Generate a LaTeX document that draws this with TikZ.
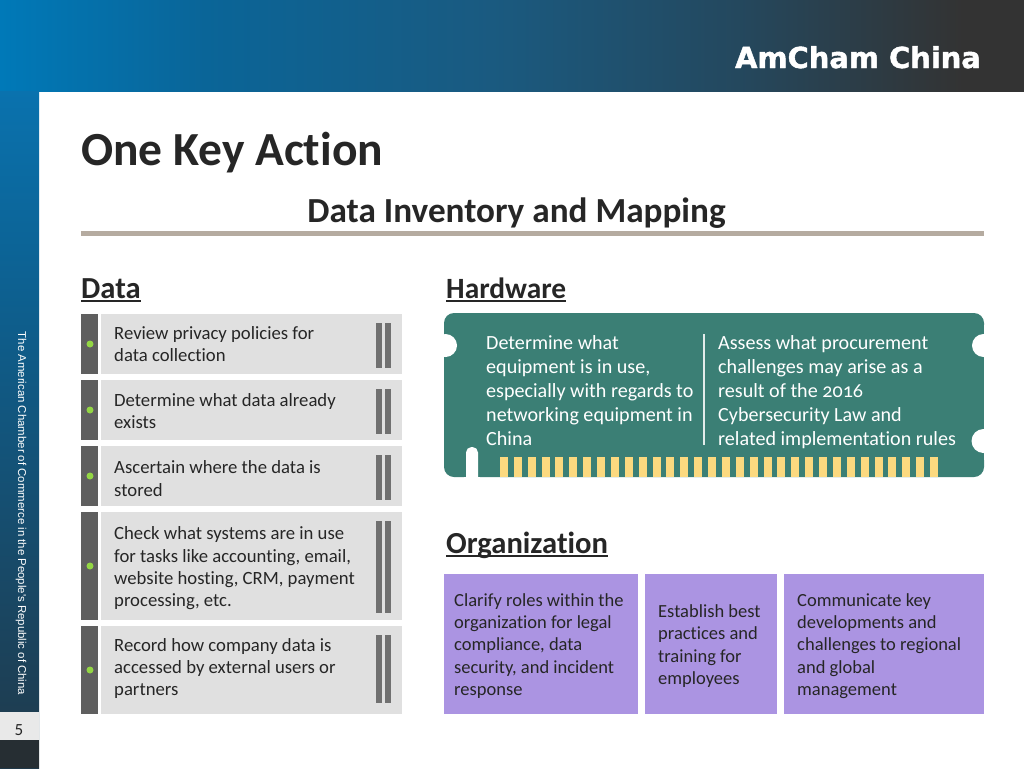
\documentclass[tikz,border=0pt]{standalone}
\usepackage{fontspec}
\setmainfont{Carlito}[Numbers=OldStyle,Ligatures=NoCommon]
\newfontfamily\sidefont{Liberation Sans}
\newfontfamily\logofont{DejaVu Sans}[BoldFont={DejaVu Sans Bold},BoldFeatures={FakeBold=1.5}]
\definecolor{c0}{HTML}{0079B8}
\definecolor{c1}{HTML}{0A6598}
\definecolor{c2}{HTML}{1A5A80}
\definecolor{c3}{HTML}{24485E}
\definecolor{c4}{HTML}{333333}
\definecolor{s0}{HTML}{0A72AE}
\definecolor{s1}{HTML}{0D6090}
\definecolor{s2}{HTML}{20394A}
\definecolor{inkc}{HTML}{262626}
\definecolor{rowbg}{HTML}{E0E0E0}
\definecolor{rowdark}{HTML}{5F5F5F}
\definecolor{dotc}{HTML}{93D644}
\definecolor{barc}{HTML}{707070}
\definecolor{board}{HTML}{3B7F75}
\definecolor{gold}{HTML}{FBD97F}
\definecolor{purp}{HTML}{AB94E2}
\definecolor{rulec}{HTML}{B5ABA0}
\definecolor{footc}{HTML}{262E33}
\pgfdeclarehorizontalshading{bandshade}{100bp}{
  color(0bp)=(c0); color(25bp)=(c0); color(35bp)=(c1); color(49bp)=(c2); color(61bp)=(c3); color(72bp)=(c4); color(100bp)=(c4)}
\pgfdeclareverticalshading{sideshade}{100bp}{
  color(0bp)=(s2); color(25bp)=(s2); color(60bp)=(s1); color(75bp)=(s0); color(100bp)=(s0)}
\tikzset{
  x=1pt,y=-1pt,
  rowtext/.style={anchor=west,inner sep=0pt,align=left,text=inkc,font=\fontsize{18.7}{22.3}\selectfont},
  boardtext/.style={anchor=north west,inner sep=0pt,align=left,text=white,font=\fontsize{20.1}{24}\selectfont},
  purptext/.style={anchor=west,inner sep=0pt,align=left,text=inkc,font=\fontsize{18.5}{22.2}\selectfont},
  head/.style={anchor=base west,inner sep=0pt,text=inkc,font=\fontsize{29.4}{30}\selectfont\bfseries},
  headwide/.style={head,font=\fontsize{30.6}{31}\selectfont\bfseries},
  headline/.style={draw=inkc,line width=1.6pt},
  rowdarkbox/.style={fill=rowdark,draw=none},
  rowbox/.style={fill=rowbg,draw=none},
  grip/.style={fill=barc,draw=none},
  purpbox/.style={fill=purp,draw=none},
}
\newcommand{\datarow}[5]{%
  \fill[rowdarkbox] (81,#1) rectangle (98,#2);
  \fill[rowbox] (101,#1) rectangle (402,#2);
  \fill[dotc] (90,{(#1+#2)/2}) circle (3.5);
  \fill[grip] (376,{#1+9}) rectangle (382.2,#4);
  \fill[grip] (384.6,{#1+9}) rectangle (390.6,#4);
  \node[rowtext] at (114,#3) {#5};
}
\begin{document}
\begin{tikzpicture}
\useasboundingbox (0,0) rectangle (1024,768);
\fill[white] (0,0) rectangle (1024,768);
\shade[shading=bandshade] (0,0) rectangle (1024,91);
\shade[shading=sideshade] (0,91) rectangle (39,768);
\fill[rowbg!70!white] (0,712) rectangle (39,740);
\fill[footc] (0,740) rectangle (39,768);
\node[inner sep=0pt,text=inkc,font=\fontsize{17}{18}\selectfont] (pageno) at (19,730) {\addfontfeature{Numbers=Lining}5};
\node[anchor=base east,inner sep=0pt,text=white] (logo) at (981,68) {\logofont\bfseries\fontsize{28.9}{30}\selectfont AmCham China};
\node[rotate=-90,inner sep=0pt,text=white,font=\fontsize{11.4}{13}\selectfont] (side) at (21,513.5) {\sidefont The American Chamber of Commerce in the People's Republic of China};
\node[anchor=base west,inner sep=0pt,text=inkc,font=\fontsize{47.5}{48}\selectfont\bfseries] (title) at (81,165) {One Key Action};
\node[anchor=base,inner sep=0pt,text=inkc,font=\fontsize{35.2}{36}\selectfont\bfseries] (sub) at (516.5,222) {Data Inventory and Mapping};
\fill[rulec] (81,231) rectangle (984,236);
\node[headwide] (hdata) at (81,298) {Data};
\node[head] (hhard) at (446,298) {Hardware};
\node[headwide] (horg) at (446,553) {Organization};
\draw[headline] ([yshift=-3pt]hdata.base west) -- ([yshift=-3pt]hdata.base east);
\draw[headline] ([yshift=-3pt]hhard.base west) -- ([yshift=-3pt]hhard.base east);
\draw[headline] ([yshift=-3pt]horg.base west) -- ([yshift=-3pt]horg.base east);
\datarow{314}{374}{344}{368}{Review privacy policies for\\data collection}
\datarow{380}{440}{411}{434}{Determine what data already\\exists}
\datarow{446}{506}{478.5}{500}{Ascertain where the data is\\stored}
\datarow{512}{620}{568.5}{613}{Check what systems are in use\\for tasks like accounting, email,\\website hosting, CRM, payment\\processing, etc.}
\datarow{626}{714}{668.5}{703}{Record how company data is\\accessed by external users or\\partners}
% board
\fill[board,rounded corners=10] (444,313) rectangle (984,477);
\fill[white] (445.5,345.5) circle (11.5);
\fill[white] (983.5,345.5) circle (11.5);
\fill[white] (983.5,441) circle (12);
\fill[white] (436,330) rectangle (444,361);
\fill[white] (984,325) rectangle (998,460);
\fill[white,rounded corners=5.5] (466,447) rectangle (478,485);
\fill[white] (464,477) rectangle (480,486);
\foreach \i in {0,...,31} {\fill[gold] ({500+13.87*\i},457) rectangle ({508+13.87*\i},477);}
\fill[white!85!board] (703.3,334) rectangle (705,445);
\node[boardtext] (b1) at (486,335.5) {Determine what\\equipment is in use,\\especially with regards to\\networking equipment in\\China};
\node[boardtext] (b2) at (718,335.5) {Assess what procurement\\challenges may arise as a\\result of the 2016\\Cybersecurity Law and\\related implementation rules};
% purple
\fill[purpbox] (444,574) rectangle (638,714);
\fill[purpbox] (645,574) rectangle (777,714);
\fill[purpbox] (784,574) rectangle (984,714);
\node[purptext] (p1) at (454,646) {Clarify roles within the\\organization for legal\\compliance, data\\security, and incident\\response};
\node[purptext] (p2) at (658,646) {Establish best\\practices and\\training for\\employees};
\node[purptext] (p3) at (797,646) {Communicate key\\developments and\\challenges to regional\\and global\\management};
\end{tikzpicture}
\end{document}
